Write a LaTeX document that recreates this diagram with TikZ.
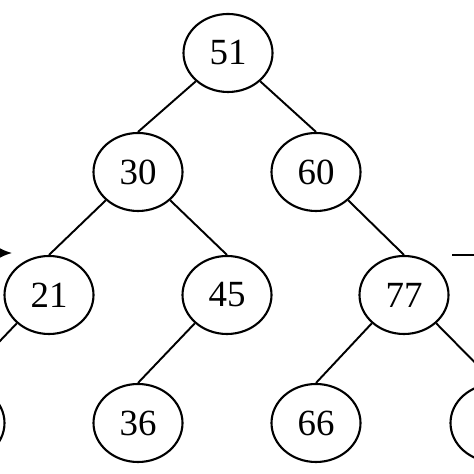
\documentclass[tikz,border=0pt]{standalone}
\usepackage{fontspec}
\setmainfont{Liberation Serif}
\usetikzlibrary{arrows.meta,shapes.geometric}

\begin{document}
\begin{tikzpicture}[
    key/.style={draw, ellipse, line width=1.2pt, minimum width=1.78cm,
                minimum height=1.56cm, inner sep=0pt, font=\fontsize{21}{24}\selectfont},
    edge/.style={line width=1.1pt},
    pointer/.style={line width=1.1pt, -{Latex[length=2.8mm,width=2.4mm]}}
]
    \clip (0,0) rectangle (9.48,9.48);
    % Root
    \node[key] (k51) at (4.56, 8.42) {51};
    % Level 1
    \node[key] (k30) at (2.76, 6.04) {30};
    \node[key] (k60) at (6.32, 6.04) {60};
    % Level 2
    \node[key] (k21) at (0.98, 3.58) {21};
    \node[key] (k45) at (4.54, 3.58) {45};
    \node[key] (k77) at (8.08, 3.58) {77};
    % Level 3
    \node[key] (kL)  at (-0.80, 1.02) {};
    \node[key] (k36) at (2.76, 1.02) {36};
    \node[key] (k66) at (6.32, 1.02) {66};
    \node[key] (kR)  at (9.90, 1.02) {};

    % Pointers
    \coordinate (inL)  at (-1.00, 4.42);
    \coordinate (tipL) at (0.24, 4.42);
    \coordinate (inR)  at (9.04, 4.38);
    \coordinate (outR) at (10.00, 4.38);

    % Edges
    \draw[edge] (k51.south west) -- (k30.north);
    \draw[edge] (k51.south east) -- (k60.north);
    \draw[edge] (k30.south west) -- (k21.north);
    \draw[edge] (k30.south east) -- (k45.north);
    \draw[edge] (k60.south east) -- (k77.north);
    \draw[edge] (k21.south west) -- (kL.north);
    \draw[edge] (k45.south west) -- (k36.north);
    \draw[edge] (k77.south west) -- (k66.north);
    \draw[edge] (k77.south east) -- (kR.north);
    \draw[pointer] (inL) -- (tipL);
    \draw[edge] (inR) -- (outR);
\end{tikzpicture}
\end{document}
